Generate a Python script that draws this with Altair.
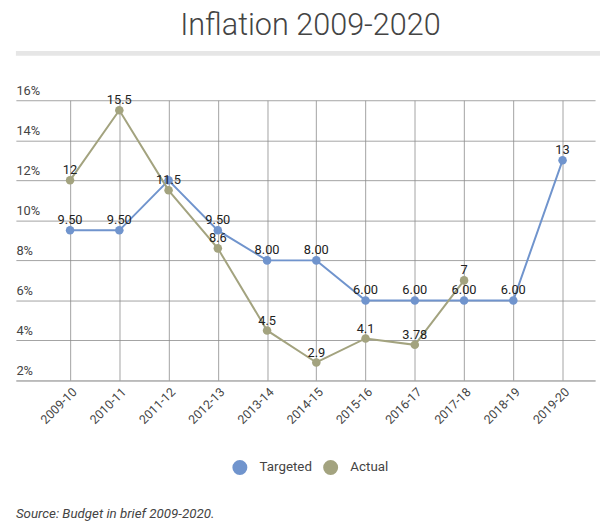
import altair as alt
import pandas as pd

years = ["2009-10", "2010-11", "2011-12", "2012-13", "2013-14", "2014-15",
         "2015-16", "2016-17", "2017-18", "2018-19", "2019-20"]
targeted = [9.5, 9.5, 12, 9.5, 8, 8, 6, 6, 6, 6, 13]
targeted_labels = ["9.50", "9.50", "", "9.50", "8.00", "8.00", "6.00", "6.00", "6.00", "6.00", "13"]
actual = [12, 15.5, 11.5, 8.6, 4.5, 2.9, 4.1, 3.78, 7, None, None]
actual_labels = ["12", "15.5", "11.5", "8.6", "4.5", "2.9", "4.1", "3.78", "7", "", ""]
y_ticks = [2, 4, 6, 8, 10, 12, 14, 16]
series = ["Targeted", "Actual"]
colors = ["#7094cd", "#a3a37f"]
title_text = "Inflation 2009-2020"
source_text = "Source: Budget in brief 2009-2020."

rows = []
for i, (yr, v, lab) in enumerate(zip(years, targeted, targeted_labels)):
    rows.append({"idx": i, "year": yr, "value": v, "label": lab, "series": "Targeted"})
for i, (yr, v, lab) in enumerate(zip(years, actual, actual_labels)):
    if v is not None:
        rows.append({"idx": i, "year": yr, "value": v, "label": lab, "series": "Actual"})
df = pd.DataFrame(rows)

W, H = 587, 284
FONT = "Roboto"
year_expr = "[" + ",".join("'" + y + "'" for y in years) + "][datum.value]"

x_enc = alt.X("idx:Q",
              scale=alt.Scale(domain=[-1.1, 10.66], nice=False, zero=False),
              axis=alt.Axis(title=None, values=list(range(len(years))), labelExpr=year_expr,
                            labelAngle=-45, labelAlign="right", labelBaseline="top",
                            labelFontSize=12.5, labelColor="#444",
                            labelFont=FONT, ticks=False, tickSize=0, grid=True,
                            gridColor="#8c8c8c", gridWidth=0.8, domainColor="#aaaaaa",
                            labelPadding=5, labelFlush=False, labelOverlap=False))
y_enc = alt.Y("value:Q", scale=alt.Scale(domain=[2, 16], nice=False, zero=False),
              axis=alt.Axis(title=None, values=y_ticks, labelExpr="datum.value + '%'",
                            labelAlign="left", labelBaseline="bottom", labelPadding=0,
                            labelOffset=-3, ticks=False, tickSize=0, domain=False,
                            gridColor="#8c8c8c", gridWidth=0.8, labelFontSize=13,
                            labelColor="#444", labelFont=FONT))
color_enc = alt.Color("series:N", scale=alt.Scale(domain=series, range=colors),
                      legend=alt.Legend(title=None, orient="none", direction="horizontal",
                                        legendX=219, legendY=364, symbolType="circle",
                                        symbolSize=230, symbolStrokeWidth=0,
                                        labelFontSize=13.5, labelColor="#444", labelFont=FONT,
                                        labelOffset=12, columnPadding=10, padding=0))

base = alt.Chart(df).encode(x=x_enc, y=y_enc, color=color_enc)

lines = base.mark_line(strokeWidth=2)
points = base.mark_point(filled=True, size=75, opacity=1, shape="circle")
labels = base.mark_text(baseline="bottom", dy=-3, fontSize=13, font=FONT).encode(
    text="label:N", color=alt.value("#222222"))

sep = alt.Chart(pd.DataFrame({"a": [0]})).mark_rule(color="#e6e6e6", strokeWidth=5).encode(
    x=alt.value(0), x2=alt.value(592), y=alt.value(-47.5))
title = alt.Chart(pd.DataFrame({"t": [title_text]})).mark_text(
    align="center", baseline="alphabetic", fontSize=31, font=FONT, fontWeight=300, color="#444"
).encode(text="t:N", x=alt.value(298.5), y=alt.value(-66))
source = alt.Chart(pd.DataFrame({"t": [source_text]})).mark_text(
    align="left", baseline="middle", fontSize=13.5, fontStyle="italic", font=FONT, color="#444"
).encode(text="t:N", x=alt.value(0), y=alt.value(419))

chart = alt.layer(sep, title, lines, points, labels, source).properties(
    width=W, height=H,
    autosize=alt.AutoSizeParams(type="none"),
    padding={"left": 8, "top": 90, "right": 5, "bottom": 144},
).configure_view(stroke=None)

chart.save("out.html", embed_options={"renderer": "svg", "actions": False})
